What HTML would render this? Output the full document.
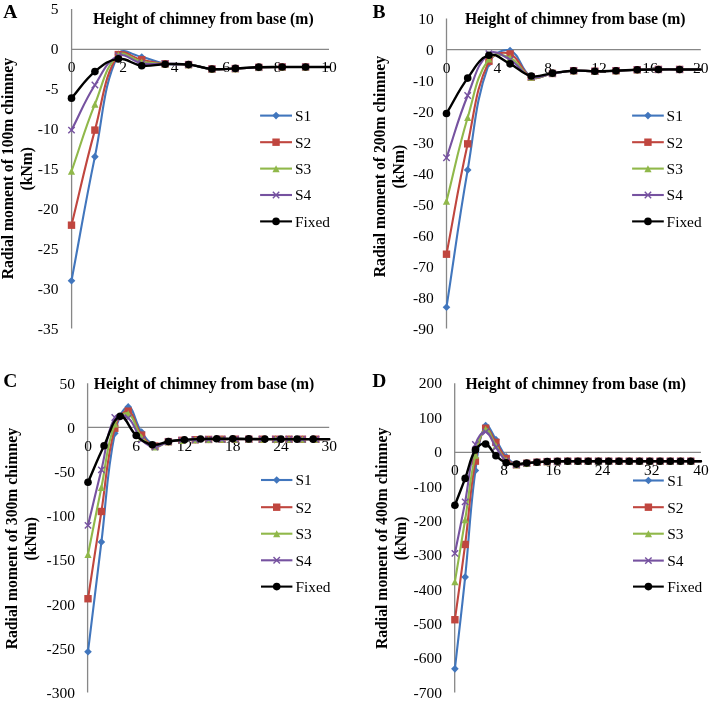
<!DOCTYPE html>
<html><head><meta charset="utf-8"><title>Radial moment of chimney</title>
<style>
html,body{margin:0;padding:0;background:#fff;}
svg{display:block;}
.t{font-family:"Liberation Serif", "Times New Roman", serif;font-size:15.5px;fill:#000;}
.g{font-family:"Liberation Serif", "Times New Roman", serif;font-size:15.4px;fill:#000;}
.b{font-family:"Liberation Serif", "Times New Roman", serif;font-size:15.7px;font-weight:bold;fill:#000;}
.L{font-family:"Liberation Serif", "Times New Roman", serif;font-size:19.5px;font-weight:bold;fill:#000;}
</style></head>
<body>
<svg width="710" height="703" viewBox="0 0 710 703">
<rect width="710" height="703" fill="#fff"/>
<line x1="71.6" y1="9" x2="71.6" y2="328.6" stroke="#878787" stroke-width="1.3"/>
<line x1="71.6" y1="49.45" x2="329" y2="49.45" stroke="#878787" stroke-width="1.3"/>
<text x="58.5" y="14.25" text-anchor="end" class="t">5</text>
<text x="58.5" y="54.2" text-anchor="end" class="t">0</text>
<text x="58.5" y="94.15" text-anchor="end" class="t">-5</text>
<text x="58.5" y="134.1" text-anchor="end" class="t">-10</text>
<text x="58.5" y="174.05" text-anchor="end" class="t">-15</text>
<text x="58.5" y="214" text-anchor="end" class="t">-20</text>
<text x="58.5" y="253.95" text-anchor="end" class="t">-25</text>
<text x="58.5" y="293.9" text-anchor="end" class="t">-30</text>
<text x="58.5" y="333.85" text-anchor="end" class="t">-35</text>
<text x="71.5" y="72.2" text-anchor="middle" class="t">0</text>
<text x="123" y="72.2" text-anchor="middle" class="t">2</text>
<text x="174.5" y="72.2" text-anchor="middle" class="t">4</text>
<text x="226" y="72.2" text-anchor="middle" class="t">6</text>
<text x="277.5" y="72.2" text-anchor="middle" class="t">8</text>
<text x="329" y="72.2" text-anchor="middle" class="t">10</text>
<path d="M71.5,280.71 C81.25,229.01 84.26,208.14 94.91,156.63 C103.77,113.76 102.39,88.1 118.32,54.19 C121.89,46.59 132.14,55.03 141.73,56.99 C151.64,59.02 155.19,62.17 165.14,63.78 C174.7,65.33 178.87,63.51 188.55,64.58 C198.38,65.67 202.12,68.14 211.95,68.97 C221.62,69.8 225.62,68.91 235.36,68.58 C245.12,68.24 249.01,67.71 258.77,67.38 C268.52,67.04 272.43,67.06 282.18,66.98 C291.93,66.89 295.84,66.98 305.59,66.98 C315.34,66.98 319.25,66.98 329,66.98" fill="none" stroke="#4176bd" stroke-width="2.1" stroke-linejoin="round" stroke-linecap="round"/>
<path d="M71.5,276.91 L75.3,280.71 L71.5,284.51 L67.7,280.71Z" fill="#4176bd"/>
<path d="M94.91,152.83 L98.71,156.63 L94.91,160.43 L91.11,156.63Z" fill="#4176bd"/>
<path d="M118.32,50.39 L122.12,54.19 L118.32,57.99 L114.52,54.19Z" fill="#4176bd"/>
<path d="M141.73,53.19 L145.53,56.99 L141.73,60.79 L137.93,56.99Z" fill="#4176bd"/>
<path d="M165.14,59.98 L168.94,63.78 L165.14,67.58 L161.34,63.78Z" fill="#4176bd"/>
<path d="M188.55,60.78 L192.35,64.58 L188.55,68.38 L184.75,64.58Z" fill="#4176bd"/>
<path d="M211.95,65.17 L215.75,68.97 L211.95,72.77 L208.15,68.97Z" fill="#4176bd"/>
<path d="M235.36,64.78 L239.16,68.58 L235.36,72.38 L231.56,68.58Z" fill="#4176bd"/>
<path d="M258.77,63.58 L262.57,67.38 L258.77,71.18 L254.97,67.38Z" fill="#4176bd"/>
<path d="M282.18,63.18 L285.98,66.98 L282.18,70.78 L278.38,66.98Z" fill="#4176bd"/>
<path d="M305.59,63.18 L309.39,66.98 L305.59,70.78 L301.79,66.98Z" fill="#4176bd"/>
<path d="M71.5,225.18 C81.25,185.56 84.12,169.43 94.91,130.1 C103.62,98.35 103.35,77.07 118.32,54.59 C122.86,47.77 131.93,57.86 141.73,59.79 C151.43,61.69 155.32,62.78 165.14,63.78 C174.82,64.77 178.87,63.51 188.55,64.58 C198.38,65.67 202.12,68.14 211.95,68.97 C221.62,69.8 225.62,68.91 235.36,68.58 C245.12,68.24 249.01,67.71 258.77,67.38 C268.52,67.04 272.43,67.06 282.18,66.98 C291.93,66.89 295.84,66.98 305.59,66.98 C315.34,66.98 319.25,66.98 329,66.98" fill="none" stroke="#c0463f" stroke-width="2.1" stroke-linejoin="round" stroke-linecap="round"/>
<rect x="67.8" y="221.48" width="7.4" height="7.4" fill="#c0463f"/>
<rect x="91.21" y="126.4" width="7.4" height="7.4" fill="#c0463f"/>
<rect x="114.62" y="50.89" width="7.4" height="7.4" fill="#c0463f"/>
<rect x="138.03" y="56.09" width="7.4" height="7.4" fill="#c0463f"/>
<rect x="161.44" y="60.08" width="7.4" height="7.4" fill="#c0463f"/>
<rect x="184.85" y="60.88" width="7.4" height="7.4" fill="#c0463f"/>
<rect x="208.25" y="65.27" width="7.4" height="7.4" fill="#c0463f"/>
<rect x="231.66" y="64.88" width="7.4" height="7.4" fill="#c0463f"/>
<rect x="255.07" y="63.68" width="7.4" height="7.4" fill="#c0463f"/>
<rect x="278.48" y="63.28" width="7.4" height="7.4" fill="#c0463f"/>
<rect x="301.89" y="63.28" width="7.4" height="7.4" fill="#c0463f"/>
<path d="M71.5,171.25 C81.25,143.28 83.86,131.56 94.91,104.13 C103.37,83.12 104.84,67.18 118.32,54.99 C124.35,49.53 131.79,59.92 141.73,61.78 C151.3,63.58 155.37,63.2 165.14,63.78 C174.88,64.36 178.87,63.51 188.55,64.58 C198.38,65.67 202.12,68.14 211.95,68.97 C221.62,69.8 225.62,68.91 235.36,68.58 C245.12,68.24 249.01,67.71 258.77,67.38 C268.52,67.04 272.43,67.06 282.18,66.98 C291.93,66.89 295.84,66.98 305.59,66.98 C315.34,66.98 319.25,66.98 329,66.98" fill="none" stroke="#90b84a" stroke-width="2.1" stroke-linejoin="round" stroke-linecap="round"/>
<path d="M71.5,167.85 L75.1,174.85 L67.9,174.85Z" fill="#90b84a"/>
<path d="M94.91,100.73 L98.51,107.73 L91.31,107.73Z" fill="#90b84a"/>
<path d="M118.32,51.59 L121.92,58.59 L114.72,58.59Z" fill="#90b84a"/>
<path d="M141.73,58.38 L145.33,65.38 L138.13,65.38Z" fill="#90b84a"/>
<path d="M165.14,60.38 L168.74,67.38 L161.54,67.38Z" fill="#90b84a"/>
<path d="M188.55,61.18 L192.15,68.18 L184.95,68.18Z" fill="#90b84a"/>
<path d="M211.95,65.57 L215.55,72.57 L208.35,72.57Z" fill="#90b84a"/>
<path d="M235.36,65.18 L238.96,72.18 L231.76,72.18Z" fill="#90b84a"/>
<path d="M258.77,63.98 L262.37,70.98 L255.17,70.98Z" fill="#90b84a"/>
<path d="M282.18,63.58 L285.78,70.58 L278.58,70.58Z" fill="#90b84a"/>
<path d="M305.59,63.58 L309.19,70.58 L301.99,70.58Z" fill="#90b84a"/>
<path d="M71.5,130.1 C81.25,111.29 83.67,102.8 94.91,84.95 C103.18,71.83 106.55,61.21 118.32,55.79 C126.06,52.22 131.73,61.68 141.73,63.38 C151.24,65.01 155.38,63.53 165.14,63.78 C174.89,64.03 178.87,63.51 188.55,64.58 C198.38,65.67 202.12,68.14 211.95,68.97 C221.62,69.8 225.62,68.91 235.36,68.58 C245.12,68.24 249.01,67.71 258.77,67.38 C268.52,67.04 272.43,67.06 282.18,66.98 C291.93,66.89 295.84,66.98 305.59,66.98 C315.34,66.98 319.25,66.98 329,66.98" fill="none" stroke="#7652a0" stroke-width="2.1" stroke-linejoin="round" stroke-linecap="round"/>
<path d="M68.3,126.9 L74.7,133.3 M74.7,126.9 L68.3,133.3" stroke="#7652a0" stroke-width="1.4" fill="none"/>
<path d="M91.71,81.75 L98.11,88.16 M98.11,81.75 L91.71,88.16" stroke="#7652a0" stroke-width="1.4" fill="none"/>
<path d="M115.12,52.59 L121.52,58.99 M121.52,52.59 L115.12,58.99" stroke="#7652a0" stroke-width="1.4" fill="none"/>
<path d="M138.53,60.18 L144.93,66.58 M144.93,60.18 L138.53,66.58" stroke="#7652a0" stroke-width="1.4" fill="none"/>
<path d="M161.94,60.58 L168.34,66.98 M168.34,60.58 L161.94,66.98" stroke="#7652a0" stroke-width="1.4" fill="none"/>
<path d="M185.35,61.38 L191.75,67.78 M191.75,61.38 L185.35,67.78" stroke="#7652a0" stroke-width="1.4" fill="none"/>
<path d="M208.75,65.77 L215.15,72.17 M215.15,65.77 L208.75,72.17" stroke="#7652a0" stroke-width="1.4" fill="none"/>
<path d="M232.16,65.38 L238.56,71.78 M238.56,65.38 L232.16,71.78" stroke="#7652a0" stroke-width="1.4" fill="none"/>
<path d="M255.57,64.18 L261.97,70.58 M261.97,64.18 L255.57,70.58" stroke="#7652a0" stroke-width="1.4" fill="none"/>
<path d="M278.98,63.78 L285.38,70.18 M285.38,63.78 L278.98,70.18" stroke="#7652a0" stroke-width="1.4" fill="none"/>
<path d="M302.39,63.78 L308.79,70.18 M308.79,63.78 L302.39,70.18" stroke="#7652a0" stroke-width="1.4" fill="none"/>
<path d="M71.5,98.14 C81.25,87.09 83.78,80.94 94.91,71.61 C103.29,64.59 108.13,60.19 118.32,58.91 C127.64,57.73 131.79,64.58 141.73,65.7 C151.29,66.78 155.37,64.41 165.14,64.18 C174.88,63.95 178.88,63.59 188.55,64.58 C198.38,65.59 202.12,68.17 211.95,68.97 C221.63,69.77 225.62,68.8 235.36,68.42 C245.12,68.03 249.01,67.44 258.77,67.14 C268.52,66.84 272.43,67.01 282.18,66.98 C291.94,66.94 295.84,66.98 305.59,66.98 C315.34,66.98 319.25,66.98 329,66.98" fill="none" stroke="#000000" stroke-width="2.4" stroke-linejoin="round" stroke-linecap="round"/>
<circle cx="71.5" cy="98.14" r="3.8" fill="#000000"/>
<circle cx="94.91" cy="71.61" r="3.8" fill="#000000"/>
<circle cx="118.32" cy="58.91" r="3.8" fill="#000000"/>
<circle cx="141.73" cy="65.7" r="3.8" fill="#000000"/>
<circle cx="165.14" cy="64.18" r="3.8" fill="#000000"/>
<circle cx="188.55" cy="64.58" r="3.8" fill="#000000"/>
<circle cx="211.95" cy="68.97" r="3.8" fill="#000000"/>
<circle cx="235.36" cy="68.42" r="3.8" fill="#000000"/>
<circle cx="258.77" cy="67.14" r="3.8" fill="#000000"/>
<circle cx="282.18" cy="66.98" r="3.8" fill="#000000"/>
<circle cx="305.59" cy="66.98" r="3.8" fill="#000000"/>
<text x="93" y="23.9" class="b">Height of chimney from base (m)</text>
<text transform="translate(13.2,168.7) rotate(-90)" text-anchor="middle" class="b">Radial moment of 100m chimney</text>
<text transform="translate(32.2,168.7) rotate(-90)" text-anchor="middle" class="b">(kNm)</text>
<text x="3.2" y="17.6" class="L">A</text>
<line x1="260.1" y1="115.6" x2="292" y2="115.6" stroke="#4176bd" stroke-width="2.1"/>
<path d="M276.05,111.8 L279.85,115.6 L276.05,119.4 L272.25,115.6Z" fill="#4176bd"/>
<text x="295" y="120.9" class="g">S1</text>
<line x1="260.1" y1="142.2" x2="292" y2="142.2" stroke="#c0463f" stroke-width="2.1"/>
<rect x="272.35" y="138.5" width="7.4" height="7.4" fill="#c0463f"/>
<text x="295" y="147.5" class="g">S2</text>
<line x1="260.1" y1="168.6" x2="292" y2="168.6" stroke="#90b84a" stroke-width="2.1"/>
<path d="M276.05,165.2 L279.65,172.2 L272.45,172.2Z" fill="#90b84a"/>
<text x="295" y="173.9" class="g">S3</text>
<line x1="260.1" y1="195" x2="292" y2="195" stroke="#7652a0" stroke-width="2.1"/>
<path d="M272.85,191.8 L279.25,198.2 M279.25,191.8 L272.85,198.2" stroke="#7652a0" stroke-width="1.4" fill="none"/>
<text x="295" y="200.3" class="g">S4</text>
<line x1="260.1" y1="221.4" x2="292" y2="221.4" stroke="#000000" stroke-width="2.1"/>
<circle cx="276.05" cy="221.4" r="3.8" fill="#000000"/>
<text x="295" y="226.7" class="g">Fixed</text>
<line x1="446.5" y1="18.6" x2="446.5" y2="328.6" stroke="#878787" stroke-width="1.3"/>
<line x1="446.5" y1="49.6" x2="700.8" y2="49.6" stroke="#878787" stroke-width="1.3"/>
<text x="433.7" y="23.8" text-anchor="end" class="t">10</text>
<text x="433.7" y="54.8" text-anchor="end" class="t">0</text>
<text x="433.7" y="85.8" text-anchor="end" class="t">-10</text>
<text x="433.7" y="116.8" text-anchor="end" class="t">-20</text>
<text x="433.7" y="147.8" text-anchor="end" class="t">-30</text>
<text x="433.7" y="178.8" text-anchor="end" class="t">-40</text>
<text x="433.7" y="209.8" text-anchor="end" class="t">-50</text>
<text x="433.7" y="240.8" text-anchor="end" class="t">-60</text>
<text x="433.7" y="271.8" text-anchor="end" class="t">-70</text>
<text x="433.7" y="302.8" text-anchor="end" class="t">-80</text>
<text x="433.7" y="333.8" text-anchor="end" class="t">-90</text>
<text x="446.5" y="72.8" text-anchor="middle" class="t">0</text>
<text x="497.36" y="72.8" text-anchor="middle" class="t">4</text>
<text x="548.22" y="72.8" text-anchor="middle" class="t">8</text>
<text x="599.08" y="72.8" text-anchor="middle" class="t">12</text>
<text x="649.94" y="72.8" text-anchor="middle" class="t">16</text>
<text x="700.8" y="72.8" text-anchor="middle" class="t">20</text>
<path d="M446.5,307.21 C455.33,249.99 457.77,226.91 467.69,169.88 C475.43,125.38 474.52,104 488.88,63.55 C492.18,54.27 502.59,48.18 510.07,50.53 C520.25,53.73 520.46,71.03 531.27,76.88 C538.12,80.59 543.61,74.76 552.46,73.47 C561.27,72.18 564.78,71.13 573.65,70.68 C582.44,70.23 586.01,71.3 594.84,71.3 C603.67,71.3 607.21,71 616.03,70.68 C624.87,70.36 628.39,70.01 637.23,69.75 C646.05,69.49 649.59,69.5 658.42,69.44 C667.25,69.38 670.78,69.44 679.61,69.44 C688.44,69.44 691.97,69.44 700.8,69.44" fill="none" stroke="#4176bd" stroke-width="2.1" stroke-linejoin="round" stroke-linecap="round"/>
<path d="M446.5,303.41 L450.3,307.21 L446.5,311.01 L442.7,307.21Z" fill="#4176bd"/>
<path d="M467.69,166.08 L471.49,169.88 L467.69,173.68 L463.89,169.88Z" fill="#4176bd"/>
<path d="M488.88,59.75 L492.68,63.55 L488.88,67.35 L485.08,63.55Z" fill="#4176bd"/>
<path d="M510.07,46.73 L513.88,50.53 L510.07,54.33 L506.27,50.53Z" fill="#4176bd"/>
<path d="M531.27,73.08 L535.07,76.88 L531.27,80.68 L527.47,76.88Z" fill="#4176bd"/>
<path d="M552.46,69.67 L556.26,73.47 L552.46,77.27 L548.66,73.47Z" fill="#4176bd"/>
<path d="M573.65,66.88 L577.45,70.68 L573.65,74.48 L569.85,70.68Z" fill="#4176bd"/>
<path d="M594.84,67.5 L598.64,71.3 L594.84,75.1 L591.04,71.3Z" fill="#4176bd"/>
<path d="M616.03,66.88 L619.83,70.68 L616.03,74.48 L612.23,70.68Z" fill="#4176bd"/>
<path d="M637.23,65.95 L641.02,69.75 L637.23,73.55 L633.43,69.75Z" fill="#4176bd"/>
<path d="M658.42,65.64 L662.22,69.44 L658.42,73.24 L654.62,69.44Z" fill="#4176bd"/>
<path d="M679.61,65.64 L683.41,69.44 L679.61,73.24 L675.81,69.44Z" fill="#4176bd"/>
<path d="M446.5,254.2 C455.33,208.22 457.64,189.55 467.69,143.84 C475.3,109.21 474.91,91.02 488.88,61.38 C492.57,53.56 502.72,51.2 510.07,53.94 C520.38,57.78 520.78,72.36 531.27,77.19 C538.44,80.5 543.6,74.83 552.46,73.47 C561.26,72.12 564.78,71.13 573.65,70.68 C582.44,70.23 586.01,71.3 594.84,71.3 C603.67,71.3 607.21,71 616.03,70.68 C624.87,70.36 628.39,70.01 637.23,69.75 C646.05,69.49 649.59,69.5 658.42,69.44 C667.25,69.38 670.78,69.44 679.61,69.44 C688.44,69.44 691.97,69.44 700.8,69.44" fill="none" stroke="#c0463f" stroke-width="2.1" stroke-linejoin="round" stroke-linecap="round"/>
<rect x="442.8" y="250.5" width="7.4" height="7.4" fill="#c0463f"/>
<rect x="463.99" y="140.14" width="7.4" height="7.4" fill="#c0463f"/>
<rect x="485.18" y="57.68" width="7.4" height="7.4" fill="#c0463f"/>
<rect x="506.38" y="50.24" width="7.4" height="7.4" fill="#c0463f"/>
<rect x="527.57" y="73.49" width="7.4" height="7.4" fill="#c0463f"/>
<rect x="548.76" y="69.77" width="7.4" height="7.4" fill="#c0463f"/>
<rect x="569.95" y="66.98" width="7.4" height="7.4" fill="#c0463f"/>
<rect x="591.14" y="67.6" width="7.4" height="7.4" fill="#c0463f"/>
<rect x="612.33" y="66.98" width="7.4" height="7.4" fill="#c0463f"/>
<rect x="633.52" y="66.05" width="7.4" height="7.4" fill="#c0463f"/>
<rect x="654.72" y="65.74" width="7.4" height="7.4" fill="#c0463f"/>
<rect x="675.91" y="65.74" width="7.4" height="7.4" fill="#c0463f"/>
<path d="M446.5,201.19 C455.33,166.31 457.43,151.93 467.69,117.49 C475.09,92.64 475.71,77.49 488.88,58.9 C493.37,52.56 502.58,54.43 510.07,57.66 C520.24,62.05 521.16,73.42 531.27,77.19 C538.82,80.01 543.6,74.83 552.46,73.47 C561.26,72.12 564.78,71.13 573.65,70.68 C582.44,70.23 586.01,71.3 594.84,71.3 C603.67,71.3 607.21,71 616.03,70.68 C624.87,70.36 628.39,70.01 637.23,69.75 C646.05,69.49 649.59,69.5 658.42,69.44 C667.25,69.38 670.78,69.44 679.61,69.44 C688.44,69.44 691.97,69.44 700.8,69.44" fill="none" stroke="#90b84a" stroke-width="2.1" stroke-linejoin="round" stroke-linecap="round"/>
<path d="M446.5,197.79 L450.1,204.79 L442.9,204.79Z" fill="#90b84a"/>
<path d="M467.69,114.09 L471.29,121.09 L464.09,121.09Z" fill="#90b84a"/>
<path d="M488.88,55.5 L492.48,62.5 L485.28,62.5Z" fill="#90b84a"/>
<path d="M510.07,54.26 L513.67,61.26 L506.47,61.26Z" fill="#90b84a"/>
<path d="M531.27,73.79 L534.87,80.79 L527.67,80.79Z" fill="#90b84a"/>
<path d="M552.46,70.07 L556.06,77.07 L548.86,77.07Z" fill="#90b84a"/>
<path d="M573.65,67.28 L577.25,74.28 L570.05,74.28Z" fill="#90b84a"/>
<path d="M594.84,67.9 L598.44,74.9 L591.24,74.9Z" fill="#90b84a"/>
<path d="M616.03,67.28 L619.63,74.28 L612.43,74.28Z" fill="#90b84a"/>
<path d="M637.23,66.35 L640.83,73.35 L633.62,73.35Z" fill="#90b84a"/>
<path d="M658.42,66.04 L662.02,73.04 L654.82,73.04Z" fill="#90b84a"/>
<path d="M679.61,66.04 L683.21,73.04 L676.01,73.04Z" fill="#90b84a"/>
<path d="M446.5,157.79 C455.33,131.83 457.38,120.82 467.69,95.48 C475.04,77.42 476.88,63.73 488.88,53.63 C494.54,48.88 502.16,55.49 510.07,59.83 C519.82,65.18 521.4,73.7 531.27,76.88 C539.06,79.39 543.61,74.76 552.46,73.47 C561.27,72.18 564.78,71.13 573.65,70.68 C582.44,70.23 586.01,71.3 594.84,71.3 C603.67,71.3 607.21,71 616.03,70.68 C624.87,70.36 628.39,70.01 637.23,69.75 C646.05,69.49 649.59,69.5 658.42,69.44 C667.25,69.38 670.78,69.44 679.61,69.44 C688.44,69.44 691.97,69.44 700.8,69.44" fill="none" stroke="#7652a0" stroke-width="2.1" stroke-linejoin="round" stroke-linecap="round"/>
<path d="M443.3,154.59 L449.7,160.99 M449.7,154.59 L443.3,160.99" stroke="#7652a0" stroke-width="1.4" fill="none"/>
<path d="M464.49,92.28 L470.89,98.68 M470.89,92.28 L464.49,98.68" stroke="#7652a0" stroke-width="1.4" fill="none"/>
<path d="M485.68,50.43 L492.08,56.83 M492.08,50.43 L485.68,56.83" stroke="#7652a0" stroke-width="1.4" fill="none"/>
<path d="M506.88,56.63 L513.27,63.03 M513.27,56.63 L506.88,63.03" stroke="#7652a0" stroke-width="1.4" fill="none"/>
<path d="M528.07,73.68 L534.47,80.08 M534.47,73.68 L528.07,80.08" stroke="#7652a0" stroke-width="1.4" fill="none"/>
<path d="M549.26,70.27 L555.66,76.67 M555.66,70.27 L549.26,76.67" stroke="#7652a0" stroke-width="1.4" fill="none"/>
<path d="M570.45,67.48 L576.85,73.88 M576.85,67.48 L570.45,73.88" stroke="#7652a0" stroke-width="1.4" fill="none"/>
<path d="M591.64,68.1 L598.04,74.5 M598.04,68.1 L591.64,74.5" stroke="#7652a0" stroke-width="1.4" fill="none"/>
<path d="M612.83,67.48 L619.23,73.88 M619.23,67.48 L612.83,73.88" stroke="#7652a0" stroke-width="1.4" fill="none"/>
<path d="M634.02,66.55 L640.43,72.95 M640.43,66.55 L634.02,72.95" stroke="#7652a0" stroke-width="1.4" fill="none"/>
<path d="M655.22,66.24 L661.62,72.64 M661.62,66.24 L655.22,72.64" stroke="#7652a0" stroke-width="1.4" fill="none"/>
<path d="M676.41,66.24 L682.81,72.64 M682.81,66.24 L676.41,72.64" stroke="#7652a0" stroke-width="1.4" fill="none"/>
<path d="M446.5,113.46 C455.33,98.74 457.65,91.93 467.69,78.12 C475.31,67.65 478.69,58.61 488.88,55.18 C496.35,52.67 501.52,59.67 510.07,63.86 C519.18,68.32 521.85,73.88 531.27,75.95 C539.51,77.76 543.62,74.26 552.46,73.16 C561.28,72.06 564.79,71.07 573.65,70.68 C582.45,70.29 586.01,71.3 594.84,71.3 C603.67,71.3 607.21,71 616.03,70.68 C624.87,70.36 628.39,70.01 637.23,69.75 C646.05,69.49 649.59,69.5 658.42,69.44 C667.25,69.38 670.78,69.44 679.61,69.44 C688.44,69.44 691.97,69.44 700.8,69.44" fill="none" stroke="#000000" stroke-width="2.4" stroke-linejoin="round" stroke-linecap="round"/>
<circle cx="446.5" cy="113.46" r="3.8" fill="#000000"/>
<circle cx="467.69" cy="78.12" r="3.8" fill="#000000"/>
<circle cx="488.88" cy="55.18" r="3.8" fill="#000000"/>
<circle cx="510.07" cy="63.86" r="3.8" fill="#000000"/>
<circle cx="531.27" cy="75.95" r="3.8" fill="#000000"/>
<circle cx="552.46" cy="73.16" r="3.8" fill="#000000"/>
<circle cx="573.65" cy="70.68" r="3.8" fill="#000000"/>
<circle cx="594.84" cy="71.3" r="3.8" fill="#000000"/>
<circle cx="616.03" cy="70.68" r="3.8" fill="#000000"/>
<circle cx="637.23" cy="69.75" r="3.8" fill="#000000"/>
<circle cx="658.42" cy="69.44" r="3.8" fill="#000000"/>
<circle cx="679.61" cy="69.44" r="3.8" fill="#000000"/>
<text x="464.9" y="23.6" class="b">Height of chimney from base (m)</text>
<text transform="translate(384.8,166.6) rotate(-90)" text-anchor="middle" class="b">Radial moment of 200m chimney</text>
<text transform="translate(403.6,166.6) rotate(-90)" text-anchor="middle" class="b">(kNm)</text>
<text x="372.5" y="17.6" class="L">B</text>
<line x1="632.1" y1="115.6" x2="663.8" y2="115.6" stroke="#4176bd" stroke-width="2.1"/>
<path d="M647.95,111.8 L651.75,115.6 L647.95,119.4 L644.15,115.6Z" fill="#4176bd"/>
<text x="666.6" y="120.9" class="g">S1</text>
<line x1="632.1" y1="142.2" x2="663.8" y2="142.2" stroke="#c0463f" stroke-width="2.1"/>
<rect x="644.25" y="138.5" width="7.4" height="7.4" fill="#c0463f"/>
<text x="666.6" y="147.5" class="g">S2</text>
<line x1="632.1" y1="168.6" x2="663.8" y2="168.6" stroke="#90b84a" stroke-width="2.1"/>
<path d="M647.95,165.2 L651.55,172.2 L644.35,172.2Z" fill="#90b84a"/>
<text x="666.6" y="173.9" class="g">S3</text>
<line x1="632.1" y1="195" x2="663.8" y2="195" stroke="#7652a0" stroke-width="2.1"/>
<path d="M644.75,191.8 L651.15,198.2 M651.15,191.8 L644.75,198.2" stroke="#7652a0" stroke-width="1.4" fill="none"/>
<text x="666.6" y="200.3" class="g">S4</text>
<line x1="632.1" y1="221.4" x2="663.8" y2="221.4" stroke="#000000" stroke-width="2.1"/>
<circle cx="647.95" cy="221.4" r="3.8" fill="#000000"/>
<text x="666.6" y="226.7" class="g">Fixed</text>
<line x1="87.6" y1="383.3" x2="87.6" y2="692.6" stroke="#878787" stroke-width="1.3"/>
<line x1="87.6" y1="427.45" x2="329.2" y2="427.45" stroke="#878787" stroke-width="1.3"/>
<text x="74.9" y="388.5" text-anchor="end" class="t">50</text>
<text x="74.9" y="432.7" text-anchor="end" class="t">0</text>
<text x="74.9" y="476.9" text-anchor="end" class="t">-50</text>
<text x="74.9" y="521.1" text-anchor="end" class="t">-100</text>
<text x="74.9" y="565.3" text-anchor="end" class="t">-150</text>
<text x="74.9" y="609.5" text-anchor="end" class="t">-200</text>
<text x="74.9" y="653.7" text-anchor="end" class="t">-250</text>
<text x="74.9" y="697.9" text-anchor="end" class="t">-300</text>
<text x="88" y="450.7" text-anchor="middle" class="t">0</text>
<text x="136.24" y="450.7" text-anchor="middle" class="t">6</text>
<text x="184.48" y="450.7" text-anchor="middle" class="t">12</text>
<text x="232.72" y="450.7" text-anchor="middle" class="t">18</text>
<text x="280.96" y="450.7" text-anchor="middle" class="t">24</text>
<text x="329.2" y="450.7" text-anchor="middle" class="t">30</text>
<path d="M88,651.68 C93.58,605.97 95.79,587.68 101.4,541.98 C106.96,496.71 106.01,477.63 114.8,433.33 C117.18,421.34 122.51,407.17 128.2,406.9 C133.68,406.65 134.86,422.47 141.6,432.1 C146.02,438.42 148.58,442.89 155,445.18 C159.75,446.87 162.74,442.67 168.4,441.64 C173.9,440.65 176.21,440.72 181.8,440.32 C187.37,439.91 189.61,439.88 195.2,439.7 C200.78,439.52 203.02,439.53 208.6,439.43 C214.18,439.34 216.42,439.29 222,439.26 C227.58,439.22 229.82,439.26 235.4,439.26 C240.98,439.26 243.22,439.26 248.8,439.26 C254.38,439.26 256.62,439.26 262.2,439.26 C267.78,439.26 270.02,439.26 275.6,439.26 C281.18,439.26 283.42,439.26 289,439.26 C294.58,439.26 296.82,439.26 302.4,439.26 C307.98,439.26 310.22,439.26 315.8,439.26 C321.38,439.26 323.62,439.26 329.2,439.26" fill="none" stroke="#4176bd" stroke-width="2.1" stroke-linejoin="round" stroke-linecap="round"/>
<path d="M88,647.88 L91.8,651.68 L88,655.48 L84.2,651.68Z" fill="#4176bd"/>
<path d="M101.4,538.18 L105.2,541.98 L101.4,545.78 L97.6,541.98Z" fill="#4176bd"/>
<path d="M114.8,429.53 L118.6,433.33 L114.8,437.13 L111,433.33Z" fill="#4176bd"/>
<path d="M128.2,403.1 L132,406.9 L128.2,410.7 L124.4,406.9Z" fill="#4176bd"/>
<path d="M141.6,428.3 L145.4,432.1 L141.6,435.9 L137.8,432.1Z" fill="#4176bd"/>
<path d="M155,441.38 L158.8,445.18 L155,448.98 L151.2,445.18Z" fill="#4176bd"/>
<path d="M168.4,437.84 L172.2,441.64 L168.4,445.44 L164.6,441.64Z" fill="#4176bd"/>
<path d="M181.8,436.52 L185.6,440.32 L181.8,444.12 L178,440.32Z" fill="#4176bd"/>
<path d="M195.2,435.9 L199,439.7 L195.2,443.5 L191.4,439.7Z" fill="#4176bd"/>
<path d="M208.6,435.63 L212.4,439.43 L208.6,443.23 L204.8,439.43Z" fill="#4176bd"/>
<path d="M222,435.46 L225.8,439.26 L222,443.06 L218.2,439.26Z" fill="#4176bd"/>
<path d="M235.4,435.46 L239.2,439.26 L235.4,443.06 L231.6,439.26Z" fill="#4176bd"/>
<path d="M248.8,435.46 L252.6,439.26 L248.8,443.06 L245,439.26Z" fill="#4176bd"/>
<path d="M262.2,435.46 L266,439.26 L262.2,443.06 L258.4,439.26Z" fill="#4176bd"/>
<path d="M275.6,435.46 L279.4,439.26 L275.6,443.06 L271.8,439.26Z" fill="#4176bd"/>
<path d="M289,435.46 L292.8,439.26 L289,443.06 L285.2,439.26Z" fill="#4176bd"/>
<path d="M302.4,435.46 L306.2,439.26 L302.4,443.06 L298.6,439.26Z" fill="#4176bd"/>
<path d="M315.8,435.46 L319.6,439.26 L315.8,443.06 L312,439.26Z" fill="#4176bd"/>
<path d="M88,598.73 C93.58,562.38 95.69,547.81 101.4,511.48 C106.86,476.76 105.92,461.46 114.8,428.21 C117.08,419.65 123.27,409.88 128.2,411.15 C134.44,412.75 134.75,426.18 141.6,435.1 C145.92,440.73 148.85,444.56 155,446.06 C160.01,447.29 162.69,442.87 168.4,441.64 C173.85,440.47 176.21,440.72 181.8,440.32 C187.37,439.91 189.61,439.88 195.2,439.7 C200.78,439.52 203.02,439.53 208.6,439.43 C214.18,439.34 216.42,439.29 222,439.26 C227.58,439.22 229.82,439.26 235.4,439.26 C240.98,439.26 243.22,439.26 248.8,439.26 C254.38,439.26 256.62,439.26 262.2,439.26 C267.78,439.26 270.02,439.26 275.6,439.26 C281.18,439.26 283.42,439.26 289,439.26 C294.58,439.26 296.82,439.26 302.4,439.26 C307.98,439.26 310.22,439.26 315.8,439.26 C321.38,439.26 323.62,439.26 329.2,439.26" fill="none" stroke="#c0463f" stroke-width="2.1" stroke-linejoin="round" stroke-linecap="round"/>
<rect x="84.3" y="595.03" width="7.4" height="7.4" fill="#c0463f"/>
<rect x="97.7" y="507.78" width="7.4" height="7.4" fill="#c0463f"/>
<rect x="111.1" y="424.51" width="7.4" height="7.4" fill="#c0463f"/>
<rect x="124.5" y="407.45" width="7.4" height="7.4" fill="#c0463f"/>
<rect x="137.9" y="431.4" width="7.4" height="7.4" fill="#c0463f"/>
<rect x="151.3" y="442.36" width="7.4" height="7.4" fill="#c0463f"/>
<rect x="164.7" y="437.94" width="7.4" height="7.4" fill="#c0463f"/>
<rect x="178.1" y="436.62" width="7.4" height="7.4" fill="#c0463f"/>
<rect x="191.5" y="436" width="7.4" height="7.4" fill="#c0463f"/>
<rect x="204.9" y="435.73" width="7.4" height="7.4" fill="#c0463f"/>
<rect x="218.3" y="435.56" width="7.4" height="7.4" fill="#c0463f"/>
<rect x="231.7" y="435.56" width="7.4" height="7.4" fill="#c0463f"/>
<rect x="245.1" y="435.56" width="7.4" height="7.4" fill="#c0463f"/>
<rect x="258.5" y="435.56" width="7.4" height="7.4" fill="#c0463f"/>
<rect x="271.9" y="435.56" width="7.4" height="7.4" fill="#c0463f"/>
<rect x="285.3" y="435.56" width="7.4" height="7.4" fill="#c0463f"/>
<rect x="298.7" y="435.56" width="7.4" height="7.4" fill="#c0463f"/>
<rect x="312.1" y="435.56" width="7.4" height="7.4" fill="#c0463f"/>
<path d="M88,554.44 C93.58,526.52 95.67,515.33 101.4,487.44 C106.84,460.96 105.95,448.37 114.8,423.96 C117.12,417.58 123.91,411.41 128.2,413.53 C135.08,416.94 134.66,428.57 141.6,437.22 C145.82,442.49 149.03,445.96 155,446.95 C160.2,447.81 162.63,443.07 168.4,441.64 C173.79,440.31 176.21,440.72 181.8,440.32 C187.37,439.91 189.61,439.88 195.2,439.7 C200.78,439.52 203.02,439.53 208.6,439.43 C214.18,439.34 216.42,439.29 222,439.26 C227.58,439.22 229.82,439.26 235.4,439.26 C240.98,439.26 243.22,439.26 248.8,439.26 C254.38,439.26 256.62,439.26 262.2,439.26 C267.78,439.26 270.02,439.26 275.6,439.26 C281.18,439.26 283.42,439.26 289,439.26 C294.58,439.26 296.82,439.26 302.4,439.26 C307.98,439.26 310.22,439.26 315.8,439.26 C321.38,439.26 323.62,439.26 329.2,439.26" fill="none" stroke="#90b84a" stroke-width="2.1" stroke-linejoin="round" stroke-linecap="round"/>
<path d="M88,551.04 L91.6,558.04 L84.4,558.04Z" fill="#90b84a"/>
<path d="M101.4,484.04 L105,491.04 L97.8,491.04Z" fill="#90b84a"/>
<path d="M114.8,420.56 L118.4,427.56 L111.2,427.56Z" fill="#90b84a"/>
<path d="M128.2,410.13 L131.8,417.13 L124.6,417.13Z" fill="#90b84a"/>
<path d="M141.6,433.82 L145.2,440.82 L138,440.82Z" fill="#90b84a"/>
<path d="M155,443.55 L158.6,450.55 L151.4,450.55Z" fill="#90b84a"/>
<path d="M168.4,438.24 L172,445.24 L164.8,445.24Z" fill="#90b84a"/>
<path d="M181.8,436.92 L185.4,443.92 L178.2,443.92Z" fill="#90b84a"/>
<path d="M195.2,436.3 L198.8,443.3 L191.6,443.3Z" fill="#90b84a"/>
<path d="M208.6,436.03 L212.2,443.03 L205,443.03Z" fill="#90b84a"/>
<path d="M222,435.86 L225.6,442.86 L218.4,442.86Z" fill="#90b84a"/>
<path d="M235.4,435.86 L239,442.86 L231.8,442.86Z" fill="#90b84a"/>
<path d="M248.8,435.86 L252.4,442.86 L245.2,442.86Z" fill="#90b84a"/>
<path d="M262.2,435.86 L265.8,442.86 L258.6,442.86Z" fill="#90b84a"/>
<path d="M275.6,435.86 L279.2,442.86 L272,442.86Z" fill="#90b84a"/>
<path d="M289,435.86 L292.6,442.86 L285.4,442.86Z" fill="#90b84a"/>
<path d="M302.4,435.86 L306,442.86 L298.8,442.86Z" fill="#90b84a"/>
<path d="M315.8,435.86 L319.4,442.86 L312.2,442.86Z" fill="#90b84a"/>
<path d="M88,525.36 C93.58,502.23 95.66,492.94 101.4,469.84 C106.83,448 105.85,434.83 114.8,417.51 C117.02,413.21 124.36,414.77 128.2,417.95 C135.52,424.02 134.61,432.13 141.6,439.7 C145.77,444.21 149.26,446.53 155,446.95 C160.43,447.34 162.63,443.07 168.4,441.64 C173.79,440.31 176.21,440.72 181.8,440.32 C187.37,439.91 189.61,439.88 195.2,439.7 C200.78,439.52 203.02,439.53 208.6,439.43 C214.18,439.34 216.42,439.29 222,439.26 C227.58,439.22 229.82,439.26 235.4,439.26 C240.98,439.26 243.22,439.26 248.8,439.26 C254.38,439.26 256.62,439.26 262.2,439.26 C267.78,439.26 270.02,439.26 275.6,439.26 C281.18,439.26 283.42,439.26 289,439.26 C294.58,439.26 296.82,439.26 302.4,439.26 C307.98,439.26 310.22,439.26 315.8,439.26 C321.38,439.26 323.62,439.26 329.2,439.26" fill="none" stroke="#7652a0" stroke-width="2.1" stroke-linejoin="round" stroke-linecap="round"/>
<path d="M84.8,522.16 L91.2,528.56 M91.2,522.16 L84.8,528.56" stroke="#7652a0" stroke-width="1.4" fill="none"/>
<path d="M98.2,466.64 L104.6,473.04 M104.6,466.64 L98.2,473.04" stroke="#7652a0" stroke-width="1.4" fill="none"/>
<path d="M111.6,414.31 L118,420.71 M118,414.31 L111.6,420.71" stroke="#7652a0" stroke-width="1.4" fill="none"/>
<path d="M125,414.75 L131.4,421.15 M131.4,414.75 L125,421.15" stroke="#7652a0" stroke-width="1.4" fill="none"/>
<path d="M138.4,436.5 L144.8,442.9 M144.8,436.5 L138.4,442.9" stroke="#7652a0" stroke-width="1.4" fill="none"/>
<path d="M151.8,443.75 L158.2,450.15 M158.2,443.75 L151.8,450.15" stroke="#7652a0" stroke-width="1.4" fill="none"/>
<path d="M165.2,438.44 L171.6,444.84 M171.6,438.44 L165.2,444.84" stroke="#7652a0" stroke-width="1.4" fill="none"/>
<path d="M178.6,437.12 L185,443.52 M185,437.12 L178.6,443.52" stroke="#7652a0" stroke-width="1.4" fill="none"/>
<path d="M192,436.5 L198.4,442.9 M198.4,436.5 L192,442.9" stroke="#7652a0" stroke-width="1.4" fill="none"/>
<path d="M205.4,436.23 L211.8,442.63 M211.8,436.23 L205.4,442.63" stroke="#7652a0" stroke-width="1.4" fill="none"/>
<path d="M218.8,436.06 L225.2,442.46 M225.2,436.06 L218.8,442.46" stroke="#7652a0" stroke-width="1.4" fill="none"/>
<path d="M232.2,436.06 L238.6,442.46 M238.6,436.06 L232.2,442.46" stroke="#7652a0" stroke-width="1.4" fill="none"/>
<path d="M245.6,436.06 L252,442.46 M252,436.06 L245.6,442.46" stroke="#7652a0" stroke-width="1.4" fill="none"/>
<path d="M259,436.06 L265.4,442.46 M265.4,436.06 L259,442.46" stroke="#7652a0" stroke-width="1.4" fill="none"/>
<path d="M272.4,436.06 L278.8,442.46 M278.8,436.06 L272.4,442.46" stroke="#7652a0" stroke-width="1.4" fill="none"/>
<path d="M285.8,436.06 L292.2,442.46 M292.2,436.06 L285.8,442.46" stroke="#7652a0" stroke-width="1.4" fill="none"/>
<path d="M299.2,436.06 L305.6,442.46 M305.6,436.06 L299.2,442.46" stroke="#7652a0" stroke-width="1.4" fill="none"/>
<path d="M312.6,436.06 L319,442.46 M319,436.06 L312.6,442.46" stroke="#7652a0" stroke-width="1.4" fill="none"/>
<path d="M88,482.22 C94.7,467.01 96.79,460.63 104.08,445.71 C110.19,433.19 112.49,418.78 120.16,416.36 C125.89,414.55 128.54,428.75 136.24,435.54 C141.94,440.57 145.21,443.43 152.32,444.74 C158.61,445.9 161.65,442.52 168.4,441.47 C175.05,440.42 177.76,440.22 184.48,439.7 C191.16,439.18 193.86,439.19 200.56,438.99 C207.26,438.79 209.94,438.78 216.64,438.73 C223.34,438.67 226.02,438.69 232.72,438.73 C239.42,438.76 242.1,438.83 248.8,438.9 C255.5,438.98 258.18,439.03 264.88,439.08 C271.58,439.14 274.26,439.15 280.96,439.17 C287.66,439.19 290.34,439.17 297.04,439.17 C303.74,439.17 306.42,439.17 313.12,439.17 C319.82,439.17 322.5,439.17 329.2,439.17" fill="none" stroke="#000000" stroke-width="2.4" stroke-linejoin="round" stroke-linecap="round"/>
<circle cx="88" cy="482.22" r="3.8" fill="#000000"/>
<circle cx="104.08" cy="445.71" r="3.8" fill="#000000"/>
<circle cx="120.16" cy="416.36" r="3.8" fill="#000000"/>
<circle cx="136.24" cy="435.54" r="3.8" fill="#000000"/>
<circle cx="152.32" cy="444.74" r="3.8" fill="#000000"/>
<circle cx="168.4" cy="441.47" r="3.8" fill="#000000"/>
<circle cx="184.48" cy="439.7" r="3.8" fill="#000000"/>
<circle cx="200.56" cy="438.99" r="3.8" fill="#000000"/>
<circle cx="216.64" cy="438.73" r="3.8" fill="#000000"/>
<circle cx="232.72" cy="438.73" r="3.8" fill="#000000"/>
<circle cx="248.8" cy="438.9" r="3.8" fill="#000000"/>
<circle cx="264.88" cy="439.08" r="3.8" fill="#000000"/>
<circle cx="280.96" cy="439.17" r="3.8" fill="#000000"/>
<circle cx="297.04" cy="439.17" r="3.8" fill="#000000"/>
<circle cx="313.12" cy="439.17" r="3.8" fill="#000000"/>
<text x="93.7" y="389" class="b">Height of chimney from base (m)</text>
<text transform="translate(17.3,538.7) rotate(-90)" text-anchor="middle" class="b">Radial moment of 300m chimney</text>
<text transform="translate(35.6,538.7) rotate(-90)" text-anchor="middle" class="b">(kNm)</text>
<text x="3.2" y="387" class="L">C</text>
<line x1="261" y1="480" x2="292.4" y2="480" stroke="#4176bd" stroke-width="2.1"/>
<path d="M276.7,476.2 L280.5,480 L276.7,483.8 L272.9,480Z" fill="#4176bd"/>
<text x="295.4" y="485.3" class="g">S1</text>
<line x1="261" y1="507.2" x2="292.4" y2="507.2" stroke="#c0463f" stroke-width="2.1"/>
<rect x="273" y="503.5" width="7.4" height="7.4" fill="#c0463f"/>
<text x="295.4" y="512.5" class="g">S2</text>
<line x1="261" y1="533.7" x2="292.4" y2="533.7" stroke="#90b84a" stroke-width="2.1"/>
<path d="M276.7,530.3 L280.3,537.3 L273.1,537.3Z" fill="#90b84a"/>
<text x="295.4" y="539" class="g">S3</text>
<line x1="261" y1="560.3" x2="292.4" y2="560.3" stroke="#7652a0" stroke-width="2.1"/>
<path d="M273.5,557.1 L279.9,563.5 M279.9,557.1 L273.5,563.5" stroke="#7652a0" stroke-width="1.4" fill="none"/>
<text x="295.4" y="565.6" class="g">S4</text>
<line x1="261" y1="586.6" x2="292.4" y2="586.6" stroke="#000000" stroke-width="2.1"/>
<circle cx="276.7" cy="586.6" r="3.8" fill="#000000"/>
<text x="295.4" y="591.9" class="g">Fixed</text>
<line x1="454.7" y1="383.3" x2="454.7" y2="692.6" stroke="#878787" stroke-width="1.3"/>
<line x1="454.7" y1="452.4" x2="701" y2="452.4" stroke="#878787" stroke-width="1.3"/>
<text x="441.9" y="388.46" text-anchor="end" class="t">200</text>
<text x="441.9" y="422.83" text-anchor="end" class="t">100</text>
<text x="441.9" y="457.2" text-anchor="end" class="t">0</text>
<text x="441.9" y="491.57" text-anchor="end" class="t">-100</text>
<text x="441.9" y="525.94" text-anchor="end" class="t">-200</text>
<text x="441.9" y="560.31" text-anchor="end" class="t">-300</text>
<text x="441.9" y="594.68" text-anchor="end" class="t">-400</text>
<text x="441.9" y="629.05" text-anchor="end" class="t">-500</text>
<text x="441.9" y="663.42" text-anchor="end" class="t">-600</text>
<text x="441.9" y="697.79" text-anchor="end" class="t">-700</text>
<text x="454.9" y="475.2" text-anchor="middle" class="t">0</text>
<text x="504.12" y="475.2" text-anchor="middle" class="t">8</text>
<text x="553.35" y="475.2" text-anchor="middle" class="t">16</text>
<text x="602.57" y="475.2" text-anchor="middle" class="t">24</text>
<text x="651.8" y="475.2" text-anchor="middle" class="t">32</text>
<text x="701.02" y="475.2" text-anchor="middle" class="t">40</text>
<path d="M454.9,668.87 C459.17,630.64 461.2,615.38 465.15,577.11 C469.74,532.74 469.44,514.68 475.41,470.56 C477.99,451.53 479.46,434.89 485.66,425.54 C488.01,422 491.94,433.56 495.92,439.63 C500.49,446.59 500.95,450.51 506.17,456.81 C509.5,460.82 511.71,462.87 516.43,464.37 C520.25,465.59 522.41,463.77 526.68,463.34 C530.96,462.91 532.66,462.67 536.94,462.31 C541.21,461.95 542.92,461.8 547.19,461.62 C551.46,461.44 553.18,461.52 557.45,461.45 C561.72,461.38 563.43,461.32 567.7,461.28 C571.98,461.24 573.69,461.28 577.96,461.28 C582.23,461.28 583.94,461.28 588.21,461.28 C592.49,461.28 594.2,461.28 598.47,461.28 C602.74,461.28 604.45,461.28 608.72,461.28 C613,461.28 614.71,461.28 618.98,461.28 C623.25,461.28 624.96,461.28 629.23,461.28 C633.51,461.28 635.22,461.28 639.49,461.28 C643.76,461.28 645.47,461.28 649.75,461.28 C654.02,461.28 655.73,461.28 660,461.28 C664.27,461.28 665.98,461.28 670.25,461.28 C674.53,461.28 676.24,461.28 680.51,461.28 C684.78,461.28 686.49,461.28 690.76,461.28 C695.04,461.28 696.75,461.28 701.02,461.28" fill="none" stroke="#4176bd" stroke-width="2.1" stroke-linejoin="round" stroke-linecap="round"/>
<path d="M454.9,665.07 L458.7,668.87 L454.9,672.67 L451.1,668.87Z" fill="#4176bd"/>
<path d="M465.15,573.31 L468.95,577.11 L465.15,580.91 L461.35,577.11Z" fill="#4176bd"/>
<path d="M475.41,466.76 L479.21,470.56 L475.41,474.36 L471.61,470.56Z" fill="#4176bd"/>
<path d="M485.66,421.74 L489.46,425.54 L485.66,429.34 L481.86,425.54Z" fill="#4176bd"/>
<path d="M495.92,435.83 L499.72,439.63 L495.92,443.43 L492.12,439.63Z" fill="#4176bd"/>
<path d="M506.17,453.01 L509.97,456.81 L506.17,460.61 L502.37,456.81Z" fill="#4176bd"/>
<path d="M516.43,460.57 L520.23,464.37 L516.43,468.17 L512.63,464.37Z" fill="#4176bd"/>
<path d="M526.68,459.54 L530.48,463.34 L526.68,467.14 L522.88,463.34Z" fill="#4176bd"/>
<path d="M536.94,458.51 L540.74,462.31 L536.94,466.11 L533.14,462.31Z" fill="#4176bd"/>
<path d="M547.19,457.82 L550.99,461.62 L547.19,465.42 L543.39,461.62Z" fill="#4176bd"/>
<path d="M557.45,457.65 L561.25,461.45 L557.45,465.25 L553.65,461.45Z" fill="#4176bd"/>
<path d="M567.7,457.48 L571.5,461.28 L567.7,465.08 L563.9,461.28Z" fill="#4176bd"/>
<path d="M577.96,457.48 L581.76,461.28 L577.96,465.08 L574.16,461.28Z" fill="#4176bd"/>
<path d="M588.21,457.48 L592.01,461.28 L588.21,465.08 L584.41,461.28Z" fill="#4176bd"/>
<path d="M598.47,457.48 L602.27,461.28 L598.47,465.08 L594.67,461.28Z" fill="#4176bd"/>
<path d="M608.72,457.48 L612.52,461.28 L608.72,465.08 L604.92,461.28Z" fill="#4176bd"/>
<path d="M618.98,457.48 L622.78,461.28 L618.98,465.08 L615.18,461.28Z" fill="#4176bd"/>
<path d="M629.23,457.48 L633.03,461.28 L629.23,465.08 L625.43,461.28Z" fill="#4176bd"/>
<path d="M639.49,457.48 L643.29,461.28 L639.49,465.08 L635.69,461.28Z" fill="#4176bd"/>
<path d="M649.75,457.48 L653.54,461.28 L649.75,465.08 L645.95,461.28Z" fill="#4176bd"/>
<path d="M660,457.48 L663.8,461.28 L660,465.08 L656.2,461.28Z" fill="#4176bd"/>
<path d="M670.25,457.48 L674.05,461.28 L670.25,465.08 L666.46,461.28Z" fill="#4176bd"/>
<path d="M680.51,457.48 L684.31,461.28 L680.51,465.08 L676.71,461.28Z" fill="#4176bd"/>
<path d="M690.76,457.48 L694.56,461.28 L690.76,465.08 L686.97,461.28Z" fill="#4176bd"/>
<path d="M454.9,619.73 C459.17,588.36 461.1,575.85 465.15,544.46 C469.64,509.76 469.35,495.45 475.41,461.11 C477.89,447.05 479.99,433.46 485.66,428.28 C488.54,425.66 491.85,436.37 495.92,442.38 C500.39,448.97 500.92,452.81 506.17,458.53 C509.46,462.11 511.85,463.64 516.43,464.72 C520.39,465.65 522.4,463.84 526.68,463.34 C530.95,462.84 532.66,462.67 536.94,462.31 C541.21,461.95 542.92,461.8 547.19,461.62 C551.46,461.44 553.18,461.52 557.45,461.45 C561.72,461.38 563.43,461.32 567.7,461.28 C571.98,461.24 573.69,461.28 577.96,461.28 C582.23,461.28 583.94,461.28 588.21,461.28 C592.49,461.28 594.2,461.28 598.47,461.28 C602.74,461.28 604.45,461.28 608.72,461.28 C613,461.28 614.71,461.28 618.98,461.28 C623.25,461.28 624.96,461.28 629.23,461.28 C633.51,461.28 635.22,461.28 639.49,461.28 C643.76,461.28 645.47,461.28 649.75,461.28 C654.02,461.28 655.73,461.28 660,461.28 C664.27,461.28 665.98,461.28 670.25,461.28 C674.53,461.28 676.24,461.28 680.51,461.28 C684.78,461.28 686.49,461.28 690.76,461.28 C695.04,461.28 696.75,461.28 701.02,461.28" fill="none" stroke="#c0463f" stroke-width="2.1" stroke-linejoin="round" stroke-linecap="round"/>
<rect x="451.2" y="616.03" width="7.4" height="7.4" fill="#c0463f"/>
<rect x="461.45" y="540.76" width="7.4" height="7.4" fill="#c0463f"/>
<rect x="471.71" y="457.41" width="7.4" height="7.4" fill="#c0463f"/>
<rect x="481.96" y="424.58" width="7.4" height="7.4" fill="#c0463f"/>
<rect x="492.22" y="438.68" width="7.4" height="7.4" fill="#c0463f"/>
<rect x="502.47" y="454.83" width="7.4" height="7.4" fill="#c0463f"/>
<rect x="512.73" y="461.02" width="7.4" height="7.4" fill="#c0463f"/>
<rect x="522.98" y="459.64" width="7.4" height="7.4" fill="#c0463f"/>
<rect x="533.24" y="458.61" width="7.4" height="7.4" fill="#c0463f"/>
<rect x="543.49" y="457.92" width="7.4" height="7.4" fill="#c0463f"/>
<rect x="553.75" y="457.75" width="7.4" height="7.4" fill="#c0463f"/>
<rect x="564" y="457.58" width="7.4" height="7.4" fill="#c0463f"/>
<rect x="574.26" y="457.58" width="7.4" height="7.4" fill="#c0463f"/>
<rect x="584.51" y="457.58" width="7.4" height="7.4" fill="#c0463f"/>
<rect x="594.77" y="457.58" width="7.4" height="7.4" fill="#c0463f"/>
<rect x="605.02" y="457.58" width="7.4" height="7.4" fill="#c0463f"/>
<rect x="615.28" y="457.58" width="7.4" height="7.4" fill="#c0463f"/>
<rect x="625.53" y="457.58" width="7.4" height="7.4" fill="#c0463f"/>
<rect x="635.79" y="457.58" width="7.4" height="7.4" fill="#c0463f"/>
<rect x="646.04" y="457.58" width="7.4" height="7.4" fill="#c0463f"/>
<rect x="656.3" y="457.58" width="7.4" height="7.4" fill="#c0463f"/>
<rect x="666.55" y="457.58" width="7.4" height="7.4" fill="#c0463f"/>
<rect x="676.81" y="457.58" width="7.4" height="7.4" fill="#c0463f"/>
<rect x="687.06" y="457.58" width="7.4" height="7.4" fill="#c0463f"/>
<path d="M454.9,581.57 C459.17,555.8 460.97,545.5 465.15,519.71 C469.52,492.8 469.42,481.55 475.41,455.09 C477.96,443.81 480.63,431.45 485.66,429.14 C489.18,427.54 491.45,438.94 495.92,445.71 C500,451.9 500.93,455.39 506.17,460.25 C509.47,463.31 511.99,464.05 516.43,464.72 C520.54,465.34 522.4,463.84 526.68,463.34 C530.95,462.84 532.66,462.67 536.94,462.31 C541.21,461.95 542.92,461.8 547.19,461.62 C551.46,461.44 553.18,461.52 557.45,461.45 C561.72,461.38 563.43,461.32 567.7,461.28 C571.98,461.24 573.69,461.28 577.96,461.28 C582.23,461.28 583.94,461.28 588.21,461.28 C592.49,461.28 594.2,461.28 598.47,461.28 C602.74,461.28 604.45,461.28 608.72,461.28 C613,461.28 614.71,461.28 618.98,461.28 C623.25,461.28 624.96,461.28 629.23,461.28 C633.51,461.28 635.22,461.28 639.49,461.28 C643.76,461.28 645.47,461.28 649.75,461.28 C654.02,461.28 655.73,461.28 660,461.28 C664.27,461.28 665.98,461.28 670.25,461.28 C674.53,461.28 676.24,461.28 680.51,461.28 C684.78,461.28 686.49,461.28 690.76,461.28 C695.04,461.28 696.75,461.28 701.02,461.28" fill="none" stroke="#90b84a" stroke-width="2.1" stroke-linejoin="round" stroke-linecap="round"/>
<path d="M454.9,578.17 L458.5,585.17 L451.3,585.17Z" fill="#90b84a"/>
<path d="M465.15,516.31 L468.75,523.31 L461.55,523.31Z" fill="#90b84a"/>
<path d="M475.41,451.69 L479.01,458.69 L471.81,458.69Z" fill="#90b84a"/>
<path d="M485.66,425.74 L489.26,432.74 L482.06,432.74Z" fill="#90b84a"/>
<path d="M495.92,442.31 L499.52,449.31 L492.32,449.31Z" fill="#90b84a"/>
<path d="M506.17,456.85 L509.77,463.85 L502.57,463.85Z" fill="#90b84a"/>
<path d="M516.43,461.32 L520.03,468.32 L512.83,468.32Z" fill="#90b84a"/>
<path d="M526.68,459.94 L530.28,466.94 L523.08,466.94Z" fill="#90b84a"/>
<path d="M536.94,458.91 L540.54,465.91 L533.34,465.91Z" fill="#90b84a"/>
<path d="M547.19,458.22 L550.79,465.22 L543.59,465.22Z" fill="#90b84a"/>
<path d="M557.45,458.05 L561.05,465.05 L553.85,465.05Z" fill="#90b84a"/>
<path d="M567.7,457.88 L571.3,464.88 L564.1,464.88Z" fill="#90b84a"/>
<path d="M577.96,457.88 L581.56,464.88 L574.36,464.88Z" fill="#90b84a"/>
<path d="M588.21,457.88 L591.81,464.88 L584.61,464.88Z" fill="#90b84a"/>
<path d="M598.47,457.88 L602.07,464.88 L594.87,464.88Z" fill="#90b84a"/>
<path d="M608.72,457.88 L612.32,464.88 L605.12,464.88Z" fill="#90b84a"/>
<path d="M618.98,457.88 L622.58,464.88 L615.38,464.88Z" fill="#90b84a"/>
<path d="M629.23,457.88 L632.83,464.88 L625.63,464.88Z" fill="#90b84a"/>
<path d="M639.49,457.88 L643.09,464.88 L635.89,464.88Z" fill="#90b84a"/>
<path d="M649.75,457.88 L653.35,464.88 L646.14,464.88Z" fill="#90b84a"/>
<path d="M660,457.88 L663.6,464.88 L656.4,464.88Z" fill="#90b84a"/>
<path d="M670.25,457.88 L673.86,464.88 L666.65,464.88Z" fill="#90b84a"/>
<path d="M680.51,457.88 L684.11,464.88 L676.91,464.88Z" fill="#90b84a"/>
<path d="M690.76,457.88 L694.37,464.88 L687.16,464.88Z" fill="#90b84a"/>
<path d="M454.9,553.39 C459.17,531.91 461.1,523.36 465.15,501.84 C469.65,477.96 468.72,467.24 475.41,444.44 C477.27,438.1 481.68,431.32 485.66,431.89 C490.23,432.55 491.45,441.07 495.92,447.39 C500,453.17 500.98,456.54 506.17,460.94 C509.52,463.76 512.04,464.2 516.43,464.72 C520.59,465.2 522.4,463.84 526.68,463.34 C530.95,462.84 532.66,462.67 536.94,462.31 C541.21,461.95 542.92,461.8 547.19,461.62 C551.46,461.44 553.18,461.52 557.45,461.45 C561.72,461.38 563.43,461.32 567.7,461.28 C571.98,461.24 573.69,461.28 577.96,461.28 C582.23,461.28 583.94,461.28 588.21,461.28 C592.49,461.28 594.2,461.28 598.47,461.28 C602.74,461.28 604.45,461.28 608.72,461.28 C613,461.28 614.71,461.28 618.98,461.28 C623.25,461.28 624.96,461.28 629.23,461.28 C633.51,461.28 635.22,461.28 639.49,461.28 C643.76,461.28 645.47,461.28 649.75,461.28 C654.02,461.28 655.73,461.28 660,461.28 C664.27,461.28 665.98,461.28 670.25,461.28 C674.53,461.28 676.24,461.28 680.51,461.28 C684.78,461.28 686.49,461.28 690.76,461.28 C695.04,461.28 696.75,461.28 701.02,461.28" fill="none" stroke="#7652a0" stroke-width="2.1" stroke-linejoin="round" stroke-linecap="round"/>
<path d="M451.7,550.19 L458.1,556.59 M458.1,550.19 L451.7,556.59" stroke="#7652a0" stroke-width="1.4" fill="none"/>
<path d="M461.95,498.64 L468.35,505.04 M468.35,498.64 L461.95,505.04" stroke="#7652a0" stroke-width="1.4" fill="none"/>
<path d="M472.21,441.24 L478.61,447.64 M478.61,441.24 L472.21,447.64" stroke="#7652a0" stroke-width="1.4" fill="none"/>
<path d="M482.46,428.69 L488.86,435.09 M488.86,428.69 L482.46,435.09" stroke="#7652a0" stroke-width="1.4" fill="none"/>
<path d="M492.72,444.19 L499.12,450.59 M499.12,444.19 L492.72,450.59" stroke="#7652a0" stroke-width="1.4" fill="none"/>
<path d="M502.97,457.74 L509.37,464.14 M509.37,457.74 L502.97,464.14" stroke="#7652a0" stroke-width="1.4" fill="none"/>
<path d="M513.23,461.52 L519.63,467.92 M519.63,461.52 L513.23,467.92" stroke="#7652a0" stroke-width="1.4" fill="none"/>
<path d="M523.48,460.14 L529.88,466.54 M529.88,460.14 L523.48,466.54" stroke="#7652a0" stroke-width="1.4" fill="none"/>
<path d="M533.74,459.11 L540.14,465.51 M540.14,459.11 L533.74,465.51" stroke="#7652a0" stroke-width="1.4" fill="none"/>
<path d="M543.99,458.42 L550.39,464.82 M550.39,458.42 L543.99,464.82" stroke="#7652a0" stroke-width="1.4" fill="none"/>
<path d="M554.25,458.25 L560.65,464.65 M560.65,458.25 L554.25,464.65" stroke="#7652a0" stroke-width="1.4" fill="none"/>
<path d="M564.5,458.08 L570.9,464.48 M570.9,458.08 L564.5,464.48" stroke="#7652a0" stroke-width="1.4" fill="none"/>
<path d="M574.76,458.08 L581.16,464.48 M581.16,458.08 L574.76,464.48" stroke="#7652a0" stroke-width="1.4" fill="none"/>
<path d="M585.01,458.08 L591.41,464.48 M591.41,458.08 L585.01,464.48" stroke="#7652a0" stroke-width="1.4" fill="none"/>
<path d="M595.27,458.08 L601.67,464.48 M601.67,458.08 L595.27,464.48" stroke="#7652a0" stroke-width="1.4" fill="none"/>
<path d="M605.52,458.08 L611.92,464.48 M611.92,458.08 L605.52,464.48" stroke="#7652a0" stroke-width="1.4" fill="none"/>
<path d="M615.78,458.08 L622.18,464.48 M622.18,458.08 L615.78,464.48" stroke="#7652a0" stroke-width="1.4" fill="none"/>
<path d="M626.03,458.08 L632.43,464.48 M632.43,458.08 L626.03,464.48" stroke="#7652a0" stroke-width="1.4" fill="none"/>
<path d="M636.29,458.08 L642.69,464.48 M642.69,458.08 L636.29,464.48" stroke="#7652a0" stroke-width="1.4" fill="none"/>
<path d="M646.54,458.08 L652.95,464.48 M652.95,458.08 L646.54,464.48" stroke="#7652a0" stroke-width="1.4" fill="none"/>
<path d="M656.8,458.08 L663.2,464.48 M663.2,458.08 L656.8,464.48" stroke="#7652a0" stroke-width="1.4" fill="none"/>
<path d="M667.05,458.08 L673.46,464.48 M673.46,458.08 L667.05,464.48" stroke="#7652a0" stroke-width="1.4" fill="none"/>
<path d="M677.31,458.08 L683.71,464.48 M683.71,458.08 L677.31,464.48" stroke="#7652a0" stroke-width="1.4" fill="none"/>
<path d="M687.56,458.08 L693.97,464.48 M693.97,458.08 L687.56,464.48" stroke="#7652a0" stroke-width="1.4" fill="none"/>
<path d="M454.9,505.2 C459.17,494.03 461,489.61 465.15,478.4 C469.54,466.57 469.27,460.21 475.41,449.9 C477.81,445.87 481.98,442.94 485.66,443.99 C490.53,445.39 491.16,451.42 495.92,455.78 C499.71,459.25 501.51,460.9 506.17,462.79 C510.06,464.37 512.15,464.06 516.43,464.1 C520.7,464.14 522.41,463.39 526.68,463 C530.95,462.61 532.67,462.53 536.94,462.21 C541.21,461.89 542.92,461.65 547.19,461.45 C551.46,461.26 553.18,461.32 557.45,461.28 C561.72,461.24 563.43,461.28 567.7,461.28 C571.98,461.28 573.69,461.28 577.96,461.28 C582.23,461.28 583.94,461.28 588.21,461.28 C592.49,461.28 594.2,461.28 598.47,461.28 C602.74,461.28 604.45,461.28 608.72,461.28 C613,461.28 614.71,461.28 618.98,461.28 C623.25,461.28 624.96,461.28 629.23,461.28 C633.51,461.28 635.22,461.28 639.49,461.28 C643.76,461.28 645.47,461.28 649.75,461.28 C654.02,461.28 655.73,461.28 660,461.28 C664.27,461.28 665.98,461.28 670.25,461.28 C674.53,461.28 676.24,461.28 680.51,461.28 C684.78,461.28 686.49,461.28 690.76,461.28 C695.04,461.28 696.75,461.28 701.02,461.28" fill="none" stroke="#000000" stroke-width="2.4" stroke-linejoin="round" stroke-linecap="round"/>
<circle cx="454.9" cy="505.2" r="3.8" fill="#000000"/>
<circle cx="465.15" cy="478.4" r="3.8" fill="#000000"/>
<circle cx="475.41" cy="449.9" r="3.8" fill="#000000"/>
<circle cx="485.66" cy="443.99" r="3.8" fill="#000000"/>
<circle cx="495.92" cy="455.78" r="3.8" fill="#000000"/>
<circle cx="506.17" cy="462.79" r="3.8" fill="#000000"/>
<circle cx="516.43" cy="464.1" r="3.8" fill="#000000"/>
<circle cx="526.68" cy="463" r="3.8" fill="#000000"/>
<circle cx="536.94" cy="462.21" r="3.8" fill="#000000"/>
<circle cx="547.19" cy="461.45" r="3.8" fill="#000000"/>
<circle cx="557.45" cy="461.28" r="3.8" fill="#000000"/>
<circle cx="567.7" cy="461.28" r="3.8" fill="#000000"/>
<circle cx="577.96" cy="461.28" r="3.8" fill="#000000"/>
<circle cx="588.21" cy="461.28" r="3.8" fill="#000000"/>
<circle cx="598.47" cy="461.28" r="3.8" fill="#000000"/>
<circle cx="608.72" cy="461.28" r="3.8" fill="#000000"/>
<circle cx="618.98" cy="461.28" r="3.8" fill="#000000"/>
<circle cx="629.23" cy="461.28" r="3.8" fill="#000000"/>
<circle cx="639.49" cy="461.28" r="3.8" fill="#000000"/>
<circle cx="649.75" cy="461.28" r="3.8" fill="#000000"/>
<circle cx="660" cy="461.28" r="3.8" fill="#000000"/>
<circle cx="670.25" cy="461.28" r="3.8" fill="#000000"/>
<circle cx="680.51" cy="461.28" r="3.8" fill="#000000"/>
<circle cx="690.76" cy="461.28" r="3.8" fill="#000000"/>
<text x="465.4" y="388.6" class="b">Height of chimney from base (m)</text>
<text transform="translate(386.8,538.4) rotate(-90)" text-anchor="middle" class="b">Radial moment of 400m chimney</text>
<text transform="translate(405.5,538.4) rotate(-90)" text-anchor="middle" class="b">(kNm)</text>
<text x="372.3" y="386.9" class="L">D</text>
<line x1="633" y1="480.5" x2="663.8" y2="480.5" stroke="#4176bd" stroke-width="2.1"/>
<path d="M648.4,476.7 L652.2,480.5 L648.4,484.3 L644.6,480.5Z" fill="#4176bd"/>
<text x="667.2" y="485.8" class="g">S1</text>
<line x1="633" y1="507.2" x2="663.8" y2="507.2" stroke="#c0463f" stroke-width="2.1"/>
<rect x="644.7" y="503.5" width="7.4" height="7.4" fill="#c0463f"/>
<text x="667.2" y="512.5" class="g">S2</text>
<line x1="633" y1="533.7" x2="663.8" y2="533.7" stroke="#90b84a" stroke-width="2.1"/>
<path d="M648.4,530.3 L652,537.3 L644.8,537.3Z" fill="#90b84a"/>
<text x="667.2" y="539" class="g">S3</text>
<line x1="633" y1="560.6" x2="663.8" y2="560.6" stroke="#7652a0" stroke-width="2.1"/>
<path d="M645.2,557.4 L651.6,563.8 M651.6,557.4 L645.2,563.8" stroke="#7652a0" stroke-width="1.4" fill="none"/>
<text x="667.2" y="565.9" class="g">S4</text>
<line x1="633" y1="586.6" x2="663.8" y2="586.6" stroke="#000000" stroke-width="2.1"/>
<circle cx="648.4" cy="586.6" r="3.8" fill="#000000"/>
<text x="667.2" y="591.9" class="g">Fixed</text>
</svg>
</body></html>
